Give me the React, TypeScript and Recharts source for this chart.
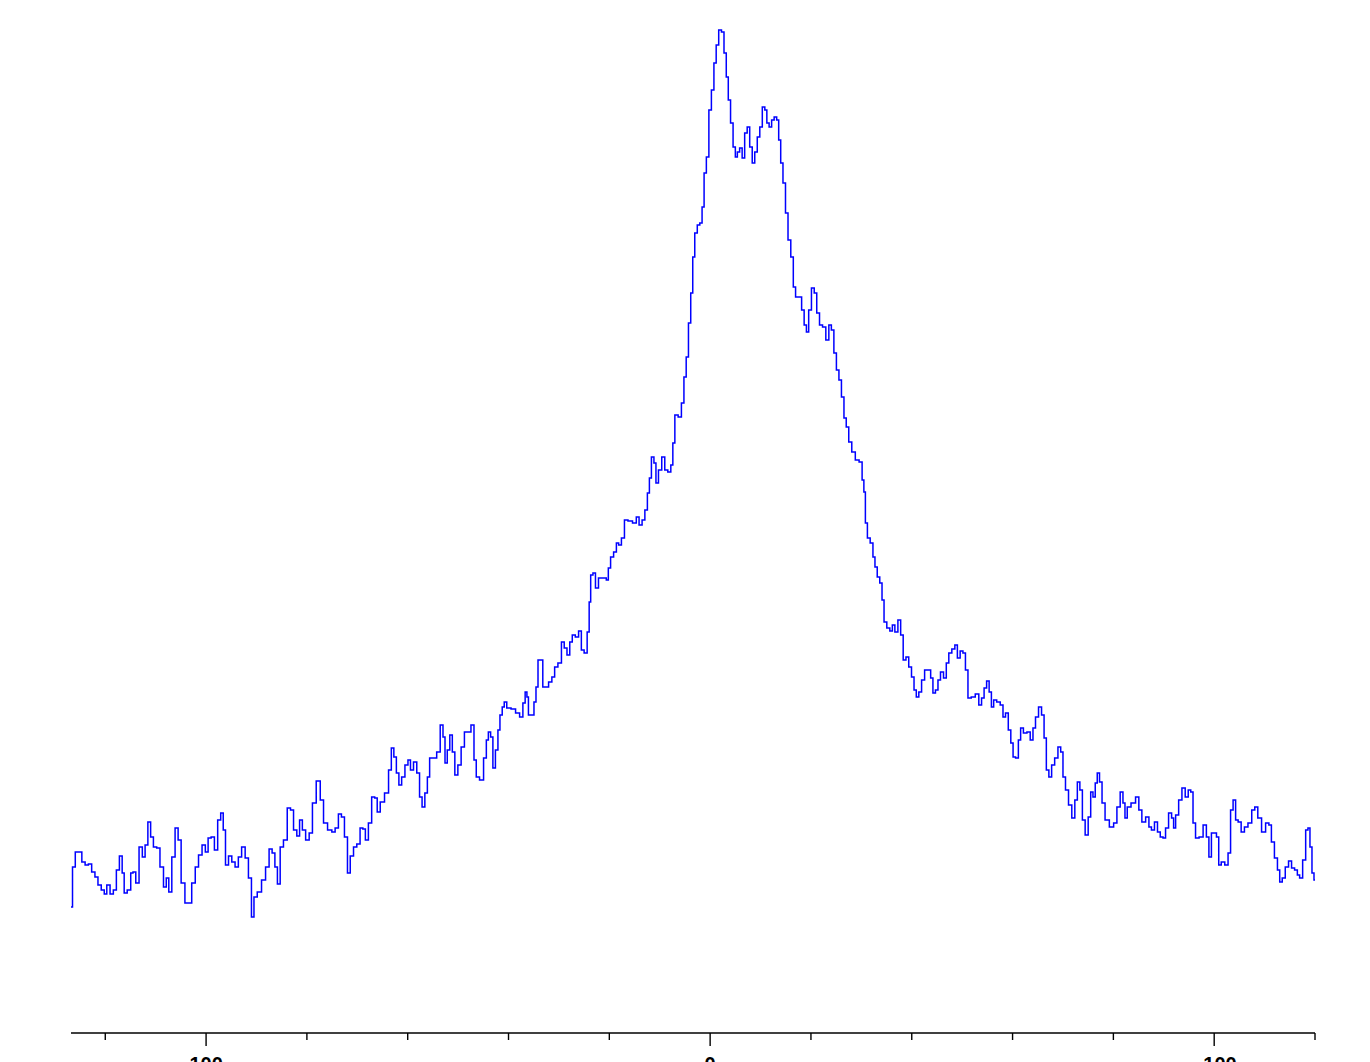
import React from 'react';
import { LineChart, Line, XAxis, YAxis } from 'recharts';

// chemical shift (ppm), descending (axis is reversed)
const PPM = [
  126.8, 126.2, 125.7, 125.0, 124.3, 123.7, 123.0, 122.4, 121.7, 121.2, 120.4, 120.0, 119.4, 118.7, 118.1, 117.5,
  116.9, 116.4, 116.1, 115.2, 114.7, 114.3, 113.6, 113.0, 112.3, 111.9, 111.2, 110.8, 110.1, 109.5, 108.8, 108.1,
  107.7, 107.1, 106.5, 105.8, 105.3, 104.6, 103.8, 103.2, 102.5, 101.8, 101.2, 100.4, 99.9, 99.3, 98.7, 98.0,
  97.4, 96.8, 96.4, 95.9, 95.2, 94.6, 93.9, 93.3, 92.6, 91.9, 91.3, 90.7, 90.3, 89.4, 88.6, 87.8,
  87.2, 86.6, 86.1, 85.6, 85.0, 84.3, 83.5, 83.0, 82.3, 81.7, 81.2, 80.6, 79.9, 79.2, 78.6, 77.7,
  77.0, 76.4, 75.4, 74.7, 74.1, 73.4, 72.9, 72.2, 71.7, 71.1, 70.4, 69.8, 69.1, 68.7, 68.1, 67.5,
  66.8, 66.3, 65.8, 65.1, 64.1, 63.5, 63.0, 62.5, 62.0, 61.5, 60.9, 60.2, 59.7, 59.2, 58.5, 57.9,
  57.4, 56.9, 56.3, 55.9, 55.4, 54.6, 53.9, 53.2, 52.8, 52.4, 51.9, 51.4, 50.9, 50.4, 49.7, 49.1,
  48.4, 47.8, 47.1, 46.6, 46.2, 45.3, 44.6, 44.2, 43.8, 43.3, 42.9, 42.3, 41.9, 41.5, 41.0, 40.7,
  40.0, 39.0, 38.2, 37.4, 36.9, 36.5, 36.2, 35.9, 35.2, 34.7, 34.4, 33.9, 33.5, 32.9, 32.4, 31.7,
  31.1, 30.6, 29.8, 29.2, 28.7, 28.1, 27.6, 27.1, 26.4, 25.8, 25.3, 24.7, 24.1, 23.9, 23.5, 23.0,
  22.5, 21.8, 20.8, 20.4, 20.0, 19.5, 18.8, 18.4, 17.9, 17.3, 16.7, 15.9, 14.9, 14.4, 13.8, 13.2,
  12.7, 12.2, 11.9, 11.4, 10.9, 10.6, 9.9, 9.3, 8.7, 8.1, 7.5, 7.3, 6.7, 6.0, 5.4, 5.0,
  4.5, 4.1, 3.6, 3.3, 2.8, 2.3, 1.8, 1.4, 1.0, 0.5, 0.0, -0.5, -1.0, -1.4, -2.0, -2.5,
  -3.0, -3.4, -3.8, -4.3, -4.8, -5.2, -5.6, -6.1, -6.6, -7.1, -7.6, -8.1, -8.6, -9.1, -9.6, -10.1,
  -10.6, -11.1, -11.4, -12.0, -12.4, -13.0, -13.4, -13.8, -14.2, -14.7, -15.2, -15.7, -16.3, -16.7, -17.2, -17.9,
  -18.4, -18.9, -19.3, -19.8, -20.4, -20.9, -21.4, -22.0, -22.6, -23.3, -23.8, -24.3, -24.8, -25.3, -25.8, -26.3,
  -26.8, -27.2, -27.8, -28.4, -29.2, -29.9, -30.4, -30.6, -31.0, -31.4, -32.1, -32.5, -32.9, -33.4, -33.9, -34.3,
  -34.7, -35.4, -35.9, -36.4, -36.9, -37.6, -38.0, -38.6, -39.1, -39.7, -40.2, -40.7, -41.1, -41.7, -42.2, -42.9,
  -43.5, -44.0, -44.4, -45.0, -45.4, -46.0, -46.6, -47.1, -47.6, -48.3, -48.8, -49.3, -49.9, -50.4, -50.9, -51.4,
  -52.2, -53.0, -53.6, -54.1, -54.6, -55.1, -55.6, -56.0, -56.5, -57.2, -57.9, -58.3, -58.9, -59.4, -59.9, -60.3,
  -60.9, -61.4, -61.8, -62.5, -63.2, -63.8, -64.3, -64.8, -65.5, -66.0, -66.5, -66.9, -67.5, -68.0, -68.7, -69.3,
  -69.8, -70.2, -70.8, -71.4, -72.1, -72.6, -73.1, -73.6, -74.1, -74.7, -75.3, -75.7, -76.2, -76.6, -77.0, -77.5,
  -78.0, -78.7, -79.7, -80.4, -81.0, -81.7, -82.1, -82.5, -83.0, -84.0, -84.8, -85.3, -86.0, -86.8, -87.3, -87.8,
  -88.5, -89.0, -89.6, -90.1, -90.6, -91.3, -91.8, -92.1, -92.6, -93.3, -93.9, -94.6, -95.1, -95.6, -96.0, -96.6,
  -97.4, -98.2, -98.7, -99.2, -99.7, -100.2, -100.7, -101.1, -101.7, -102.5, -103.0, -103.5, -104.0, -104.5, -105.0, -105.7,
  -106.3, -107.1, -107.8, -108.3, -109.0, -109.8, -110.6, -111.1, -111.6, -112.3, -112.8, -113.2, -113.8, -114.4, -115.1, -115.6,
  -116.3, -116.7, -117.2, -117.9, -118.4, -118.8, -119.2, -119.6, -120.0,
];

// signal intensity (arbitrary units), one value per PPM entry
const INTENSITY = [
  12.5, 16.5, 18.0, 18.0, 17.0, 16.7, 16.8, 16.0, 15.5, 14.7, 14.2, 13.8, 14.7, 13.8, 14.2, 16.2,
  17.6, 15.9, 13.9, 14.2, 15.9, 16.0, 14.9, 18.5, 17.5, 18.7, 21.0, 19.5, 18.5, 18.4, 16.5, 14.5,
  15.4, 14.0, 17.5, 20.4, 19.2, 14.9, 12.9, 12.9, 14.9, 16.5, 17.7, 18.7, 18.0, 19.4, 19.5, 18.2,
  21.2, 21.9, 20.2, 16.7, 17.6, 17.0, 16.5, 17.5, 18.5, 17.4, 15.4, 11.5, 13.5, 14.0, 15.2, 16.5,
  18.3, 17.9, 16.5, 14.8, 18.5, 19.2, 22.4, 22.2, 20.2, 19.6, 21.2, 20.2, 19.2, 19.9, 22.9, 25.1,
  23.2, 20.9, 20.2, 20.0, 20.4, 21.8, 21.5, 19.5, 15.9, 17.6, 18.5, 18.8, 20.4, 20.3, 19.2, 20.9,
  23.5, 23.4, 22.0, 23.0, 23.9, 26.2, 28.4, 27.5, 25.9, 24.7, 25.5, 26.7, 27.2, 26.2, 27.0, 25.9,
  23.5, 22.5, 23.9, 25.5, 27.4, 27.4, 28.0, 30.7, 29.5, 26.9, 28.2, 29.7, 28.0, 25.7, 26.7, 28.5,
  30.0, 30.0, 30.7, 27.2, 25.5, 25.2, 27.4, 29.2, 30.0, 29.5, 26.4, 28.2, 30.2, 31.7, 32.5, 33.0,
  32.4, 32.3, 31.9, 31.5, 32.9, 34.0, 33.5, 31.7, 31.7, 33.0, 34.5, 37.2, 37.2, 34.5, 34.5, 35.0,
  35.5, 36.5, 36.9, 39.0, 38.4, 37.7, 39.0, 39.7, 39.5, 40.1, 38.2, 37.9, 40.0, 43.0, 45.7, 45.9,
  44.4, 45.4, 45.4, 45.2, 46.4, 47.5, 48.0, 48.9, 48.7, 49.4, 51.2, 51.1, 50.9, 51.5, 50.7, 51.2,
  52.2, 53.9, 55.4, 57.5, 56.9, 54.9, 56.2, 57.5, 56.2, 56.0, 56.7, 58.9, 61.7, 61.5, 62.9, 65.5,
  67.5, 70.9, 73.9, 77.5, 79.9, 80.7, 80.9, 82.5, 85.9, 87.5, 92.2, 94.2, 96.9, 98.7, 100.2, 100.0,
  97.9, 95.5, 93.2, 90.9, 88.5, 87.5, 88.0, 88.4, 87.4, 89.9, 90.5, 88.5, 86.9, 88.0, 89.5, 90.5,
  92.5, 92.2, 90.9, 90.5, 91.2, 91.5, 91.2, 89.2, 86.9, 84.9, 81.9, 79.2, 77.5, 74.5, 73.5, 73.5,
  72.2, 70.7, 70.0, 72.2, 74.4, 73.9, 71.9, 70.7, 70.5, 69.2, 70.7, 70.2, 67.9, 66.2, 65.2, 63.5,
  61.4, 60.5, 59.0, 58.0, 57.2, 57.0, 55.2, 54.0, 50.9, 49.4, 48.9, 47.5, 46.5, 45.5, 44.9, 43.2,
  41.0, 40.4, 40.1, 40.7, 40.0, 41.2, 39.7, 37.2, 37.5, 36.5, 35.5, 34.2, 33.5, 34.0, 35.2, 36.2,
  36.2, 35.4, 33.9, 34.2, 35.2, 36.0, 35.4, 36.9, 37.9, 38.3, 38.7, 37.4, 38.1, 37.9, 36.2, 33.4,
  33.5, 33.8, 32.7, 33.4, 34.4, 35.1, 34.0, 32.5, 33.2, 33.0, 32.7, 31.5, 31.9, 30.2, 28.9, 27.5,
  27.4, 29.2, 30.4, 29.9, 30.0, 29.2, 30.4, 31.5, 32.5, 31.7, 29.4, 26.2, 25.5, 26.7, 27.4, 28.5,
  28.0, 25.5, 24.2, 22.7, 21.4, 23.2, 25.0, 24.2, 21.2, 19.7, 21.5, 24.0, 23.5, 24.9, 25.9, 25.0,
  22.9, 21.2, 20.5, 20.9, 22.5, 24.0, 22.9, 21.4, 22.5, 22.9, 23.5, 22.2, 21.0, 21.5, 20.5, 20.2,
  21.0, 20.0, 19.5, 19.4, 20.4, 21.9, 21.4, 20.4, 21.7, 23.2, 24.4, 23.5, 24.2, 24.0, 20.9, 19.4,
  19.5, 20.7, 19.5, 17.5, 19.9, 19.9, 19.5, 16.7, 17.0, 16.7, 17.9, 22.2, 23.2, 21.2, 21.0, 20.0,
  20.5, 20.9, 22.2, 22.5, 21.4, 20.0, 20.9, 20.7, 19.0, 17.4, 16.2, 15.0, 15.4, 16.5, 17.1, 16.4,
  16.2, 15.7, 15.4, 17.2, 20.2, 20.4, 18.5, 15.9, 15.2,
];

const X_TICKS = [120, 100, 80, 60, 40, 20, 0, -20, -40, -60, -80, -100, -120];
const LABELED_TICKS = [100, 0, -100];
const X_DOMAIN = [-120, 126.8];
const Y_DOMAIN = [-0.1, 101];

const data = PPM.map((ppm, i) => ({ ppm, intensity: INTENSITY[i] }));

const fmt = (v: number) => (v < 0 ? '\u2212' + Math.abs(v) : String(v));

function AxisTick(props: any) {
  const { x, y, payload } = props;
  const v = payload.value;
  const major = LABELED_TICKS.includes(v);
  return (
    <g>
      <line x1={x} x2={x} y1={y} y2={y + (major ? 13 : 7)} stroke="#000" strokeWidth={1.4} />
      {major && (
        <text
          x={x}
          y={y + 38}
          textAnchor="middle"
          fontFamily="'Liberation Sans', Arial, sans-serif"
          fontWeight="bold"
          fontSize={20}
          fill="#000"
        >
          {fmt(v)}
        </text>
      )}
    </g>
  );
}

export default function App() {
  return (
    <div style={{ width: 1354, height: 1075, background: '#fff' }}>
      <LineChart
        width={1354}
        height={1075}
        data={data}
        margin={{ top: 14, right: 47, bottom: 0, left: 63 }}
      >
        <XAxis
          dataKey="ppm"
          type="number"
          domain={X_DOMAIN}
          reversed
          allowDataOverflow
          ticks={X_TICKS}
          interval={0}
          tickSize={0}
          tickMargin={0}
          tickLine={false}
          tick={<AxisTick />}
          height={50}
          axisLine={{ stroke: '#000', strokeWidth: 1.4 }}
        />
        <YAxis hide type="number" domain={Y_DOMAIN} allowDataOverflow />
        <Line
          type="step"
          dataKey="intensity"
          stroke="#0000ff"
          strokeWidth={1.5}
          dot={false}
          activeDot={false}
          isAnimationActive={false}
        />
      </LineChart>
    </div>
  );
}
